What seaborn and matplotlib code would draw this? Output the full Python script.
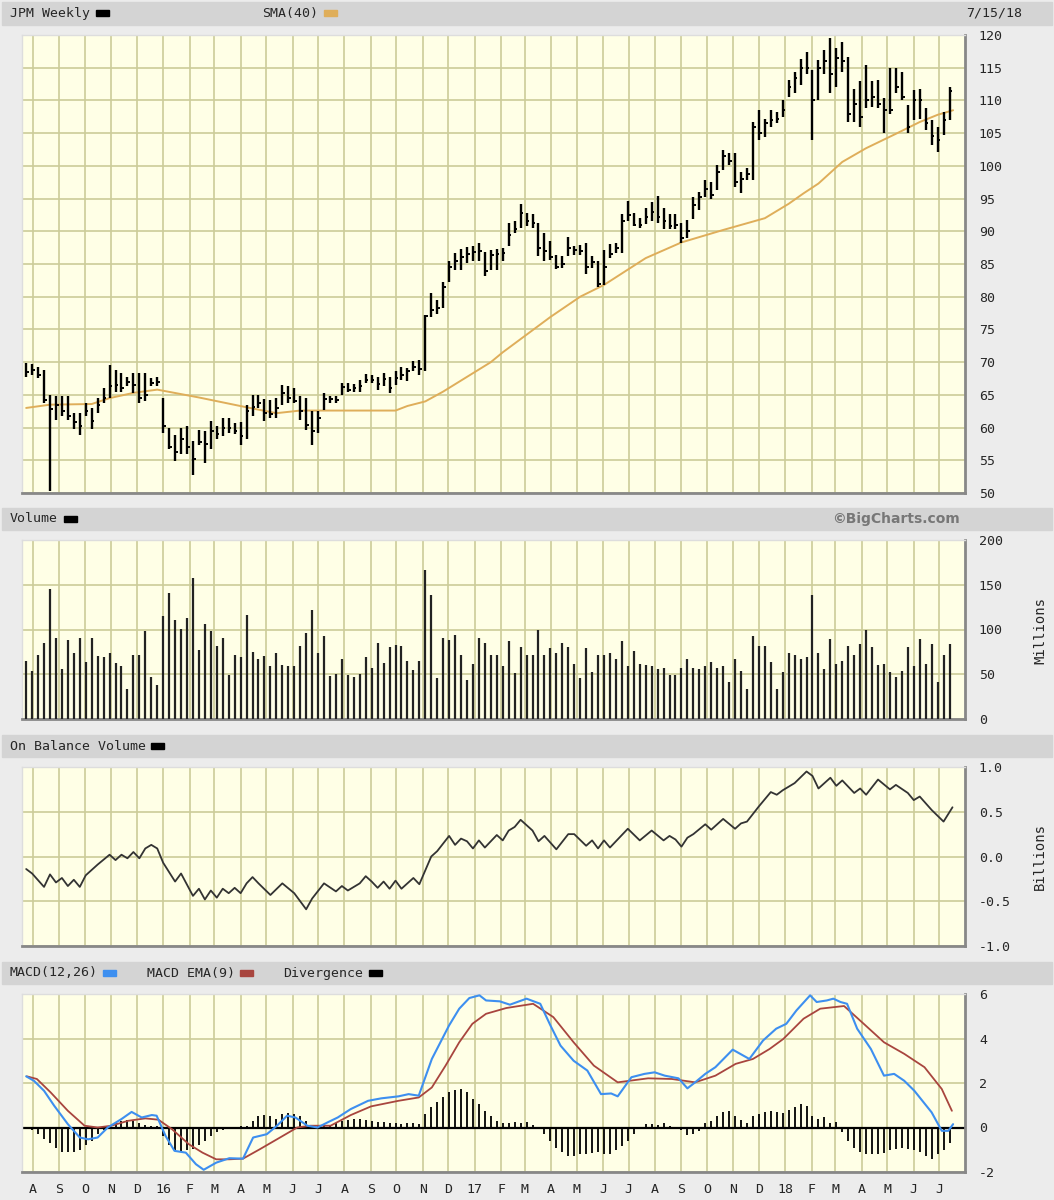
import numpy as np
import pandas as pd
import matplotlib
matplotlib.use("Agg")
import matplotlib.pyplot as plt
import seaborn as sns

# ---------------- data ----------------
start_date = "2015-07-24"
n_weeks = 156
highs = [69.8,69.7,69.2,68.8,65.0,64.8,64.8,64.9,62.2,62.2,63.7,63.0,64.5,66.0,69.5,68.8,68.3,67.8,68.3,68.3,
         68.3,67.6,67.7,64.5,60.0,58.9,60.0,60.2,57.9,59.7,59.4,61.0,60.2,61.5,61.4,60.7,60.8,63.5,65.0,65.0,
         64.3,64.2,64.5,66.5,66.3,66.0,64.8,64.5,62.5,62.5,65.3,64.8,64.8,66.8,66.8,66.6,67.3,68.2,68.1,67.8,
         68.3,67.8,68.6,69.3,69.1,70.1,70.3,77.2,80.5,79.5,82.3,85.4,86.7,87.3,87.6,87.7,88.2,86.9,87.2,87.3,
         87.4,91.3,91.5,94.1,92.8,92.7,91.3,89.7,88.5,86.4,86.2,89.2,87.7,87.9,88.2,86.2,85.5,87.2,88.0,88.2,
         92.6,94.6,92.8,92.1,93.6,94.4,95.4,93.6,92.6,92.6,91.3,91.7,95.3,96.0,97.8,97.6,100.1,102.4,101.9,101.9,
         99.1,99.6,106.7,108.5,107.2,108.5,108.3,110.0,113.1,114.4,116.4,117.4,114.6,116.2,117.7,119.5,118.0,119.0,116.7,111.8,
         112.9,115.4,112.9,113.1,110.3,114.9,114.9,114.4,109.3,111.6,111.8,108.8,107.0,106.0,108.3,112.1]
lows = [67.8,68.0,67.6,63.8,50.3,61.2,61.8,61.2,59.8,58.9,61.7,59.8,62.2,63.8,64.5,65.5,65.5,66.3,65.3,63.8,
        64.0,66.3,66.3,59.2,56.7,54.9,55.9,55.9,52.8,57.4,54.6,56.7,58.2,58.7,59.2,59.0,57.4,58.2,61.7,63.0,
        61.0,61.4,61.5,63.5,63.8,63.7,61.2,59.7,57.4,59.2,62.7,63.8,63.8,65.0,65.5,65.5,65.5,66.8,66.8,65.8,
        66.3,65.3,66.5,67.3,67.1,68.6,68.1,68.6,76.9,77.4,78.2,82.3,84.1,84.1,85.2,85.4,85.4,83.1,84.1,84.1,
        85.4,87.7,89.7,90.5,90.8,90.5,86.2,85.4,85.6,84.2,84.4,86.2,86.4,86.4,83.5,84.4,81.5,81.8,85.9,86.7,
        86.7,91.5,90.8,90.5,91.1,91.5,91.3,90.3,90.3,90.3,88.2,88.9,91.9,93.2,95.3,95.0,96.3,99.3,100.1,96.8,
        95.8,97.8,97.9,103.9,104.4,106.0,106.5,107.5,110.6,111.1,112.3,114.1,103.9,110.0,114.1,111.1,112.1,114.4,106.7,106.7,
        106.0,108.8,109.0,108.8,105.0,108.0,111.1,110.0,105.0,107.0,107.2,105.5,103.2,102.1,104.7,107.0]
closes = [68.5,68.8,68.0,64.2,62.9,63.5,62.5,61.8,60.8,60.3,62.5,61.0,63.5,64.5,66.4,66.5,66.0,67.0,66.5,64.5,
          65.0,66.8,67.0,60.3,57.0,56.3,58.2,57.0,55.2,57.8,57.5,59.5,59.0,60.0,60.0,59.5,58.7,62.5,63.2,63.7,
          62.2,62.0,63.0,65.3,64.5,64.0,62.5,60.4,59.5,61.5,64.3,64.3,64.2,66.2,65.8,66.0,66.4,67.3,67.2,66.6,
          67.5,66.0,67.6,68.0,68.7,69.3,69.0,77.0,78.0,78.3,81.5,84.5,85.5,86.0,86.5,86.8,87.0,84.0,86.3,86.5,
          86.7,89.5,90.3,92.8,91.5,91.3,87.5,87.0,86.0,84.6,85.0,87.5,87.2,87.0,84.5,85.3,82.0,84.5,86.5,87.5,
          91.5,92.5,91.0,91.0,92.2,93.0,92.2,91.5,90.8,91.0,89.0,90.0,94.0,95.2,96.5,95.5,99.0,101.5,100.8,97.5,
          98.0,98.7,106.0,105.0,106.5,107.0,107.2,108.5,112.0,113.5,115.0,115.0,110.0,115.0,116.0,114.0,116.5,116.0,108.0,109.5,
          107.5,110.0,110.5,109.5,108.5,108.5,112.0,110.5,106.0,110.0,110.0,106.5,104.5,104.0,107.0,111.5]
sma_week = [0,4,11,14,18,22,29,37,42,46,62,64,67,70,78,80,88,93,97,104,110,117,124,128,130.5,133,137,141,146,150,153,155.6]
sma_val = [63.0,63.5,63.6,64.5,65.3,65.8,64.6,63.1,62.2,62.6,62.6,63.3,64.0,65.5,70.0,71.5,76.9,80.0,81.8,85.9,88.3,90.2,92.0,94.2,95.8,97.3,100.6,102.7,104.9,106.7,107.8,108.5]
volume = [65,54,71,85,145,91,56,88,74,91,64,90,70,69,74,63,59,33,72,72,
          98,47,38,115,141,111,101,113,157,77,106,98,82,90,49,71,69,116,75,67,
          70,59,74,60,59,59,82,96,122,74,93,48,50,67,49,47,50,69,57,85,
          63,80,83,82,65,55,65,167,139,46,91,88,94,72,44,62,90,85,72,72,
          59,87,51,80,71,72,100,71,79,74,85,80,62,46,79,52,72,71,74,67,
          87,59,76,62,60,59,56,57,49,49,57,67,57,56,59,64,57,59,41,67,
          54,33,93,82,82,64,33,52,74,71,67,69,139,74,56,89,62,65,82,71,
          84,100,80,60,62,52,47,54,80,59,89,62,84,41,72,84]
obv_week = [0,1,3,4,5,6,7,8,9,10,12,14,15,16,17,18,19,20,21,22,23,25,26,28,29,30,31,32,33,34,35,36,37,38,39,41,43,45,47,48,
            50,52,53,54,56,57,58,59,60,61,62,63,65,66,68,69,71,72,73,74,75,76,77,79,80,81,82,83,85,86,87,89,91,92,94,95,96,97,98,101,
            103,105,107,108,109,110,111,112,114,115,117,119,120,121,123,125,126,127,129,131,132,133,135,136,137,139,140,141,143,145,146,148,149,150,152,154,155.5]
obv_val = [-0.14,-0.19,-0.34,-0.20,-0.29,-0.24,-0.33,-0.26,-0.34,-0.21,-0.09,0.02,-0.04,0.02,-0.02,0.05,-0.02,0.09,0.13,0.09,-0.07,-0.28,-0.19,-0.44,-0.36,-0.48,-0.38,-0.46,-0.36,-0.41,-0.35,-0.41,-0.30,-0.23,-0.30,-0.43,-0.30,-0.41,-0.59,-0.47,
           -0.30,-0.39,-0.33,-0.38,-0.30,-0.22,-0.28,-0.35,-0.28,-0.36,-0.27,-0.36,-0.24,-0.31,0.00,0.06,0.23,0.13,0.20,0.17,0.09,0.18,0.10,0.24,0.18,0.29,0.33,0.41,0.29,0.17,0.23,0.08,0.25,0.25,0.12,0.18,0.09,0.18,0.10,0.31,
           0.18,0.29,0.18,0.23,0.19,0.11,0.21,0.25,0.36,0.30,0.42,0.31,0.37,0.39,0.56,0.72,0.69,0.74,0.82,0.95,0.90,0.76,0.88,0.79,0.85,0.71,0.76,0.69,0.86,0.75,0.80,0.71,0.63,0.67,0.52,0.39,0.55]
macd_week = [0,1.3,3,4.7,7,9,10.4,12,13.7,16,17.7,19.4,21.1,21.9,23.4,24.9,26.8,28.5,29.8,31.9,34.1,36.4,38.1,40.4,42.1,43.8,45.2,47.2,48.9,50.6,
             52.3,54.5,57.4,59.6,62.5,64.2,65.9,68.1,71,72.7,74.4,76.1,77.2,79.5,81.2,84,86.3,88,89.7,91.9,94.2,96.5,98.2,99.3,101.6,103.8,105.5,107.2,109.5,111,
             112.3,114,115.7,118.6,121.4,123.7,125.9,127.6,129.3,131.6,132.7,134.4,135.5,136.7,137.8,139.5,141.8,144,145.7,147.4,149.1,152,153.7,154.8,155.6]
macd_val = [2.3,2.1,1.65,0.98,0.15,-0.45,-0.53,-0.45,0.0,0.38,0.7,0.45,0.56,0.53,-0.38,-1.05,-1.13,-1.65,-1.9,-1.58,-1.38,-1.4,-0.45,-0.3,0.08,0.53,0.45,0.08,0.0,0.23,
            0.45,0.83,1.2,1.31,1.4,1.5,1.43,3.08,4.59,5.34,5.82,5.94,5.71,5.67,5.52,5.79,5.56,4.59,3.68,3.0,2.56,1.5,1.53,1.4,2.26,2.41,2.48,2.33,2.21,1.76,
            2.03,2.41,2.71,3.5,3.08,3.91,4.44,4.66,5.26,5.94,5.64,5.71,5.79,5.64,5.56,4.44,3.53,2.33,2.41,2.1,1.65,0.68,-0.15,-0.15,0.15]
signal_week = [0.1,1.8,4.1,7,9.8,12,14.3,17.1,20,22.2,24.5,27.3,29.6,31.9,34.1,36.4,39.2,42.1,45.5,47.7,51.1,54.5,57.9,62.5,65.9,68.1,70.4,72.7,74.9,77.2,
               80.6,85.1,88.5,91.9,95.3,99.3,104.4,108.4,112.3,115.7,119.1,122,124.8,127.1,130.5,133.3,137.3,140.6,144,147.4,150.8,153.7,155.4]
signal_val = [2.3,2.18,1.58,0.75,0.08,0.0,0.08,0.3,0.41,0.35,-0.08,-0.75,-1.13,-1.43,-1.43,-1.4,-0.98,-0.53,0.0,0.08,0.08,0.56,0.95,1.2,1.35,1.8,2.78,3.83,4.66,5.11,
              5.37,5.56,4.96,3.83,2.78,2.03,2.21,2.18,2.03,2.33,2.86,3.08,3.53,3.98,4.89,5.34,5.46,4.66,3.83,3.31,2.71,1.73,0.75]
divergence = ([-0.05,-0.1,-0.3,-0.5,-0.7,-0.9,-1.1,-1.1,-1.1,-1.0,-0.8,-0.6,-0.3,-0.1]
              + [0.1,0.2,0.3,0.35,0.3,0.2,0.1,0.05,0.05]
              + [-0.4,-0.8,-1.0,-1.1,-1.0,-0.95,-0.8,-0.6,-0.4,-0.2,-0.1]
              + [0.0,0.0,0.05,0.05]
              + [0.3,0.5,0.55,0.5,0.4,0.6,0.65,0.6,0.5,0.3]
              + [0.1,0.05,0.05,0.1]
              + [0.2,0.3,0.35,0.4,0.4,0.35,0.3,0.25,0.25,0.2,0.2,0.15,0.2,0.2,0.15]
              + [0.6,0.9,1.15,1.35,1.6,1.7,1.75,1.6,1.3,1.05,0.75,0.5,0.3,0.2]
              + [0.2,0.25,0.2,0.25,0.1,0.0,-0.3]
              + [-0.6,-0.9,-1.1,-1.3,-1.3,-1.2,-1.2,-1.15,-1.1,-1.2,-1.2,-1.0,-0.85,-0.6,-0.3]
              + [-0.05,0.15,0.15,0.1,0.2,0.05,0.0]
              + [-0.1,-0.35,-0.3,-0.15]
              + [0.2,0.3,0.5,0.7,0.75,0.5,0.35,0.2,0.5,0.6,0.7,0.75,0.7,0.65,0.8,0.9,1.05,0.95,0.5]
              + [0.4,0.45,0.2,0.25]
              + [-0.2,-0.6,-0.9,-1.1,-1.2,-1.2,-1.2,-1.15,-1.0,-0.95,-0.9,-0.95,-1.0,-1.1,-1.3,-1.4,-1.2,-1.0,-0.7])

# ---------------- styling ----------------
sns.set_theme(style="white")
plt.rcParams['font.family'] = ['DejaVu Sans']
BG = "#ffffe6"
GRID = "#cccc99"
PAGE = "#ececec"
STRIP = "#d4d4d4"
ORANGE = "#dfae5a"
BLUE = "#3d8ff0"
RED = "#a8453e"

W, H = 1054, 1200
fig = plt.figure(figsize=(W/100, H/100), dpi=100, facecolor=PAGE)

def fy(py):
    return 1 - py / H

def add_axes(top, bottom):
    return fig.add_axes([22/W, fy(bottom), (965-22)/W, (bottom-top)/H])

weeks = np.arange(n_weeks)
dates = pd.date_range(start_date, periods=n_weeks, freq="7D")
t0 = dates[0]
month_starts = pd.date_range("2015-08-01", "2018-07-01", freq="MS")
month_pos = [(d - t0).days / 7.0 for d in month_starts]
month_lab = [("%02d" % (d.year % 100)) if d.month == 1 else d.strftime("%b")[0] for d in month_starts]
xlo, xhi = -0.7, 157.6

def strip(top, bottom):
    fig.patches.append(plt.Rectangle((2/W, fy(bottom)), (W-4)/W, (bottom-top)/H,
                                     transform=fig.transFigure, color=STRIP, zorder=0))
def legend_item(x, y, text, color):
    fig.text(x/W, fy(y), text, fontsize=9.5, va="center", ha="left", family="DejaVu Sans Mono")
    tw = len(text) * 7.95
    fig.patches.append(plt.Rectangle(((x+tw+6)/W, fy(y+3)), 13/W, 6/H,
                                     transform=fig.transFigure, color=color, zorder=3))

strip(2, 25); strip(508, 530); strip(735, 757); strip(962, 984)
legend_item(10, 13, "JPM Weekly", "black")
legend_item(262, 13, "SMA(40)", ORANGE)
fig.text(1022/W, fy(13), "7/15/18", fontsize=9.5, va="center", ha="right", family="DejaVu Sans Mono")
legend_item(10, 519, "Volume", "black")
fig.text(960/W, fy(519), "©BigCharts.com", fontsize=10, va="center", ha="right", color="#777777", weight="bold")
legend_item(10, 746, "On Balance Volume", "black")
legend_item(10, 973, "MACD(12,26)", BLUE)
legend_item(147, 973, "MACD EMA(9)", RED)
legend_item(283, 973, "Divergence", "black")

def style(ax, ylim, yticks, ylabels):
    ax.set_facecolor(BG)
    ax.set_xlim(xlo, xhi)
    ax.set_ylim(*ylim)
    for p in month_pos:
        ax.axvline(p, color=GRID, lw=1.2, zorder=0)
    for t in yticks:
        ax.axhline(t, color=GRID, lw=1.2, zorder=0)
    ax.set_yticks(yticks)
    ax.set_yticklabels(ylabels, fontsize=9.5, family="DejaVu Sans Mono")
    ax.yaxis.tick_right()
    ax.tick_params(axis="y", length=0, pad=10)
    ax.set_xticks([])
    ax.set_xlabel(""); ax.set_ylabel("")
    for s in ["left", "top"]:
        ax.spines[s].set_color("#dddddd"); ax.spines[s].set_linewidth(1)
    for s in ["right", "bottom"]:
        ax.spines[s].set_color("#888888"); ax.spines[s].set_linewidth(2)

# price
ax1 = add_axes(35, 493)
style(ax1, (50, 120), list(range(50, 121, 5)), [str(v) for v in range(50, 121, 5)])
ax1.vlines(weeks, lows, highs, color="black", lw=1.7, zorder=3)
ax1.hlines(closes, weeks, weeks + 0.45, color="black", lw=1.4, zorder=3)
sns.lineplot(x=sma_week, y=sma_val, ax=ax1, color=ORANGE, lw=1.4, zorder=2)
ax1.set_xlabel(""); ax1.set_ylabel("")

# volume
ax2 = add_axes(540, 719)
style(ax2, (0, 200), [0, 50, 100, 150, 200], ["0", "50", "100", "150", "200"])
ax2.vlines(weeks, 0, volume, color="#222222", lw=1.6, zorder=3)
fig.text(1040/W, fy(630), "Millions", rotation=90, fontsize=10, va="center", ha="center", family="DejaVu Sans Mono")

# OBV
ax3 = add_axes(767, 946)
style(ax3, (-1, 1), [-1, -0.5, 0, 0.5, 1], ["-1.0", "-0.5", "0.0", "0.5", "1.0"])
sns.lineplot(x=obv_week, y=obv_val, ax=ax3, color="#333333", lw=1.3, zorder=3)
ax3.set_xlabel(""); ax3.set_ylabel("")
fig.text(1040/W, fy(857), "Billions", rotation=90, fontsize=10, va="center", ha="center", family="DejaVu Sans Mono")

# MACD
ax4 = add_axes(994, 1172)
style(ax4, (-2, 6), [-2, 0, 2, 4, 6], ["-2", "0", "2", "4", "6"])
ax4.axhline(0, color="black", lw=1.6, zorder=2)
ax4.vlines(weeks, 0, divergence, color="black", lw=1.3, zorder=3)
sns.lineplot(x=signal_week, y=signal_val, ax=ax4, color=RED, lw=1.3, zorder=4)
sns.lineplot(x=macd_week, y=macd_val, ax=ax4, color=BLUE, lw=1.5, zorder=5)
ax4.set_xlabel(""); ax4.set_ylabel("")
ax4.set_xticks(month_pos)
ax4.set_xticklabels(month_lab, fontsize=9.5, family="DejaVu Sans Mono")
ax4.tick_params(axis="x", length=0, pad=8)

fig.savefig("out.png", dpi=100, facecolor=PAGE)
